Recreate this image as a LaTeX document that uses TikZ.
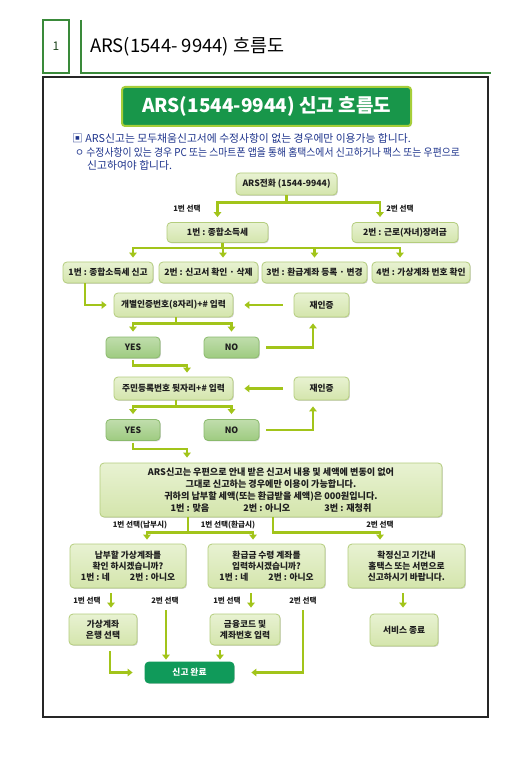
\documentclass[tikz,border=0pt]{standalone}
\usepackage{fontspec}
\setmainfont{Noto Sans CJK KR}
\usetikzlibrary{arrows.meta,calc,shadows}
\definecolor{arrowc}{RGB}{162,196,26}
\definecolor{boxfill}{RGB}{212,229,172}
\definecolor{boxtop}{RGB}{232,242,210}
\definecolor{boxline}{RGB}{180,205,125}
\definecolor{yesfill}{RGB}{158,203,128}
\definecolor{yesline}{RGB}{138,186,108}
\definecolor{titlefill}{RGB}{24,150,74}
\definecolor{titleline}{RGB}{166,206,57}
\definecolor{donefill}{RGB}{16,154,90}
\definecolor{headgreen}{RGB}{58,138,58}
\definecolor{noteblue}{RGB}{30,52,140}
\definecolor{textc}{RGB}{30,30,30}
\begin{document}
\begin{tikzpicture}[x=1pt,y=-1pt,
 box/.style={draw=boxline, line width=0.8pt, rounded corners=4pt, top color=boxtop, bottom color=boxfill,
   font=\bfseries\fontsize{8.7}{11}\selectfont, text=textc, align=center, inner sep=1pt,
   drop shadow={shadow xshift=0.9pt, shadow yshift=-0.9pt, opacity=0.35, fill=black!45}},
 dbox/.style={box, top color=yesfill!65!white, bottom color=yesfill, draw=yesline},
 conn/.style={draw=arrowc, line width=2.4pt},
 arr/.style={conn, -{Triangle[width=7.5pt,length=5pt]}},
 lab/.style={font=\bfseries\fontsize{7.6}{9}\selectfont, text=textc, inner sep=0},
 note/.style={anchor=west, inner sep=0, text=noteblue, font=\fontsize{10.8}{12}\selectfont},
]
\useasboundingbox (0,0) rectangle (516,783);
\fill[white] (0,0) rectangle (516,783);

% header
\node[draw=headgreen, line width=1.2pt, minimum width=26pt, minimum height=53pt, inner sep=0,
  font=\fontsize{12}{14}\selectfont, text=headgreen!50!black] (num) at (56,46.5) {1};
\draw[headgreen, line width=1.3pt] (81,20) -- (81,73) -- (491,73);
\node[anchor=west, inner sep=0, font=\fontsize{18.5}{20}\selectfont, text=black] (htitle) at (90,47) {ARS(1544- 9944) 흐름도};

% frame
\draw[line width=1.4pt, black!85] (43,77) rectangle (488,717);

% title
\node[draw=titleline, line width=2pt, fill=titlefill, rounded corners=3pt, minimum width=289pt, minimum height=39pt,
  text=white, font=\bfseries\fontsize{19}{22}\selectfont,
  drop shadow={shadow xshift=0.9pt, shadow yshift=-0.9pt, opacity=0.3, fill=black!45}] (title) at (266.5,106.5) {ARS(1544-9944) 신고 흐름도};

% notes
\node[note] (note1) at (72,138) {▣ ARS신고는 모두채움신고서에 수정사항이 없는 경우에만 이용가능 합니다.};
\node[note] (note2) at (75,152) {\scalebox{0.91}[1]{ㅇ 수정사항이 있는 경우 PC 또는 스마트폰 앱을 통해 홈택스에서 신고하거나 팩스 또는 우편으로}};
\node[note] (note3) at (87,165) {신고하여야 합니다.};

% nodes
\node[box, minimum width=101pt, minimum height=22pt] (ars) at (286.5,184) {ARS전화 (1544-9944)};
\node[box, minimum width=101pt, minimum height=20pt] (n1) at (217.5,232.5) {1번 : 종합소득세};
\node[box, minimum width=106pt, minimum height=20pt] (n2) at (405,232.5) {2번 : 근로(자녀)장려금};
\node[box, minimum width=90pt, minimum height=21pt] (b1) at (108,272.5) {1번 : 종합소득세 신고};
\node[box, minimum width=99pt, minimum height=21pt] (b2) at (208.5,272.5) {2번 : 신고서 확인 · 삭제};
\node[box, minimum width=105pt, minimum height=21pt] (b3) at (314.5,272.5) {3번 : 환급계좌 등록 · 변경};
\node[box, minimum width=98pt, minimum height=21pt] (b4) at (421,272.5) {4번 : 가상계좌 번호 확인};

\node[box, minimum width=119pt, minimum height=24pt] (a1) at (173.5,305) {개별인증번호(8자리)+\# 입력};
\node[box, minimum width=55pt, minimum height=24pt] (r1) at (321.5,305) {재인증};
\node[dbox, minimum width=54pt, minimum height=21pt] (yes1) at (133,347.5) {YES};
\node[dbox, minimum width=55pt, minimum height=21pt] (no1) at (231.5,347.5) {NO};

\node[box, minimum width=119pt, minimum height=23pt] (a2) at (173.5,388.5) {주민등록번호 뒷자리+\# 입력};
\node[box, minimum width=55pt, minimum height=23pt] (r2) at (321.5,388.5) {재인증};
\node[dbox, minimum width=54pt, minimum height=21pt] (yes2) at (133,430) {YES};
\node[dbox, minimum width=55pt, minimum height=21pt] (no2) at (231.5,430) {NO};

\node[box, minimum width=342pt, minimum height=54pt, font=\bfseries\fontsize{9.1}{12}\selectfont] (big) at (271,490)
 {ARS신고는 우편으로 안내 받은 신고서 내용 및 세액에 변동이 없어\\그대로 신고하는 경우에만 이용이 가능합니다.\\귀하의 납부할 세액(또는 환급받을 세액)은 000원입니다.\\1번 : 맞음\hspace{34pt}2번 : 아니오\hspace{34pt}3번 : 재청취};

\node[box, minimum width=116pt, minimum height=44pt] (bA) at (128,566) {납부할 가상계좌를\\확인 하시겠습니까?\\1번 : 네\hspace{20pt}2번 : 아니오};
\node[box, minimum width=117pt, minimum height=44pt] (bB) at (266.5,566) {환급금 수령 계좌를\\입력하시겠습니까?\\1번 : 네\hspace{20pt}2번 : 아니오};
\node[box, minimum width=117pt, minimum height=44pt] (bC) at (406.5,566) {확정신고 기간내\\홈택스 또는 서면으로\\신고하시기 바랍니다.};

\node[box, minimum width=68pt, minimum height=31pt] (d1) at (103,629.5) {가상계좌\\은행 선택};
\node[box, minimum width=70pt, minimum height=31pt] (d2) at (245,629.5) {금융코드 및\\계좌번호 입력};
\node[box, minimum width=68pt, minimum height=32pt] (d3) at (404,630) {서비스 종료};
\node[box, draw=donefill, top color=donefill, bottom color=donefill, text=white, minimum width=89pt, minimum height=21pt] (done) at (189.5,672.5) {신고 완료};

% labels
\node[lab] (l1) at (187,209) {1번 선택};
\node[lab] (l2) at (400,209) {2번 선택};
\node[lab] (l3) at (140,525) {1번 선택(납부시)};
\node[lab] (l4) at (228,525) {1번 선택(환급시)};
\node[lab] (l5) at (380,525) {2번 선택};
\node[lab] (l6) at (87,601) {1번 선택};
\node[lab] (l7) at (165,601) {2번 선택};
\node[lab] (l8) at (227,601) {1번 선택};
\node[lab] (l9) at (303,601) {2번 선택};

% connectors
\draw[conn] (ars.south) -- ++(0,7) coordinate (j1);
\draw[arr, shorten >=5pt] (j1) -| (n1.north);
\draw[arr, shorten >=5pt] (j1) -| ($(n2.north)+(-25,0)$);

\draw[conn] ($(n1.south)+(5,0)$) -- ++(0,5) coordinate (j2);
\draw[arr, shorten >=4pt] (j2) -| ($(b1.north)+(25,0)$);
\draw[arr, shorten >=4pt] (j2) -| ($(b2.north)+(14.5,0)$);
\draw[arr, shorten >=4pt] (j2) -| (b3.north);
\draw[arr, shorten >=4pt] (j2) -| ($(b4.north)+(-21,0)$);

\draw[arr, shorten >=7pt] ($(b1.south)+(-23,0)$) |- (a1.west);
\draw[arr, shorten <=11pt, shorten >=11pt] (r1.west) -- (a1.east);
\draw[conn] ($(a1.south)+(2.5,0)$) -- ++(0,6) coordinate (j3);
\draw[arr, shorten >=5pt] (j3) -| (yes1.north);
\draw[arr, shorten >=5pt] (j3) -| (no1.north);
\draw[arr, shorten <=7pt, shorten >=6pt] (no1.east) -| ($(r1.south)+(-8.5,0)$);
\draw[arr, shorten <=2pt, shorten >=4pt] (yes1.south) -- ++(0,7) -| ($(a2.north)+(13.5,0)$);

\draw[arr, shorten <=11pt, shorten >=11pt] (r2.west) -- (a2.east);
\draw[conn] ($(a2.south)+(2.5,0)$) -- ++(0,6) coordinate (j4);
\draw[arr, shorten >=5pt] (j4) -| (yes2.north);
\draw[arr, shorten >=5pt] (j4) -| (no2.north);
\draw[arr, shorten <=7pt, shorten >=6pt] (no2.east) -| ($(r2.south)+(-8.5,0)$);
\draw[arr, shorten <=2pt, shorten >=5pt] (yes2.south) -- ++(0,8) -| ($(big.north)+(-84,0)$);

\draw[conn] ($(big.south)+(-83,0)$) -- ++(0,15) coordinate (j5);
\draw[arr, shorten >=4pt] (j5) -| ($(bA.north)+(19,0)$);
\draw[arr, shorten >=4pt] (j5) -| ($(bB.north)+(-13.5,0)$);
\draw[arr, shorten >=4pt] ($(big.south)+(2,0)$) -- ++(0,15) -| ($(bC.north)+(-26.5,0)$);

\draw[arr, shorten <=5pt, shorten >=6pt] ($(bA.south)+(-17,0)$) -- ($(d1.north)+(8,0)$);
\draw[arr, shorten <=22pt, shorten >=2pt] ($(bA.south)+(38,0)$) -- ($(done.north)+(-23.5,0)$);
\draw[arr, shorten <=6pt, shorten >=12pt] ($(d1.south)+(7,0)$) |- (done.west);
\draw[arr, shorten <=5pt, shorten >=6pt] ($(bB.south)+(-15.5,0)$) -- ($(d2.north)+(6,0)$);
\draw[arr, shorten <=22pt, shorten >=17pt] ($(bB.south)+(36.5,0)$) |- (done.east);
\draw[arr, shorten <=5pt, shorten >=2pt] ($(d2.south)+(-25,0)$) -- ($(done.north)+(30.5,0)$);
\draw[arr, shorten <=5pt, shorten >=6pt] ($(bC.south)+(-3.5,0)$) -- ($(d3.north)+(-1,0)$);
\end{tikzpicture}
\end{document}
